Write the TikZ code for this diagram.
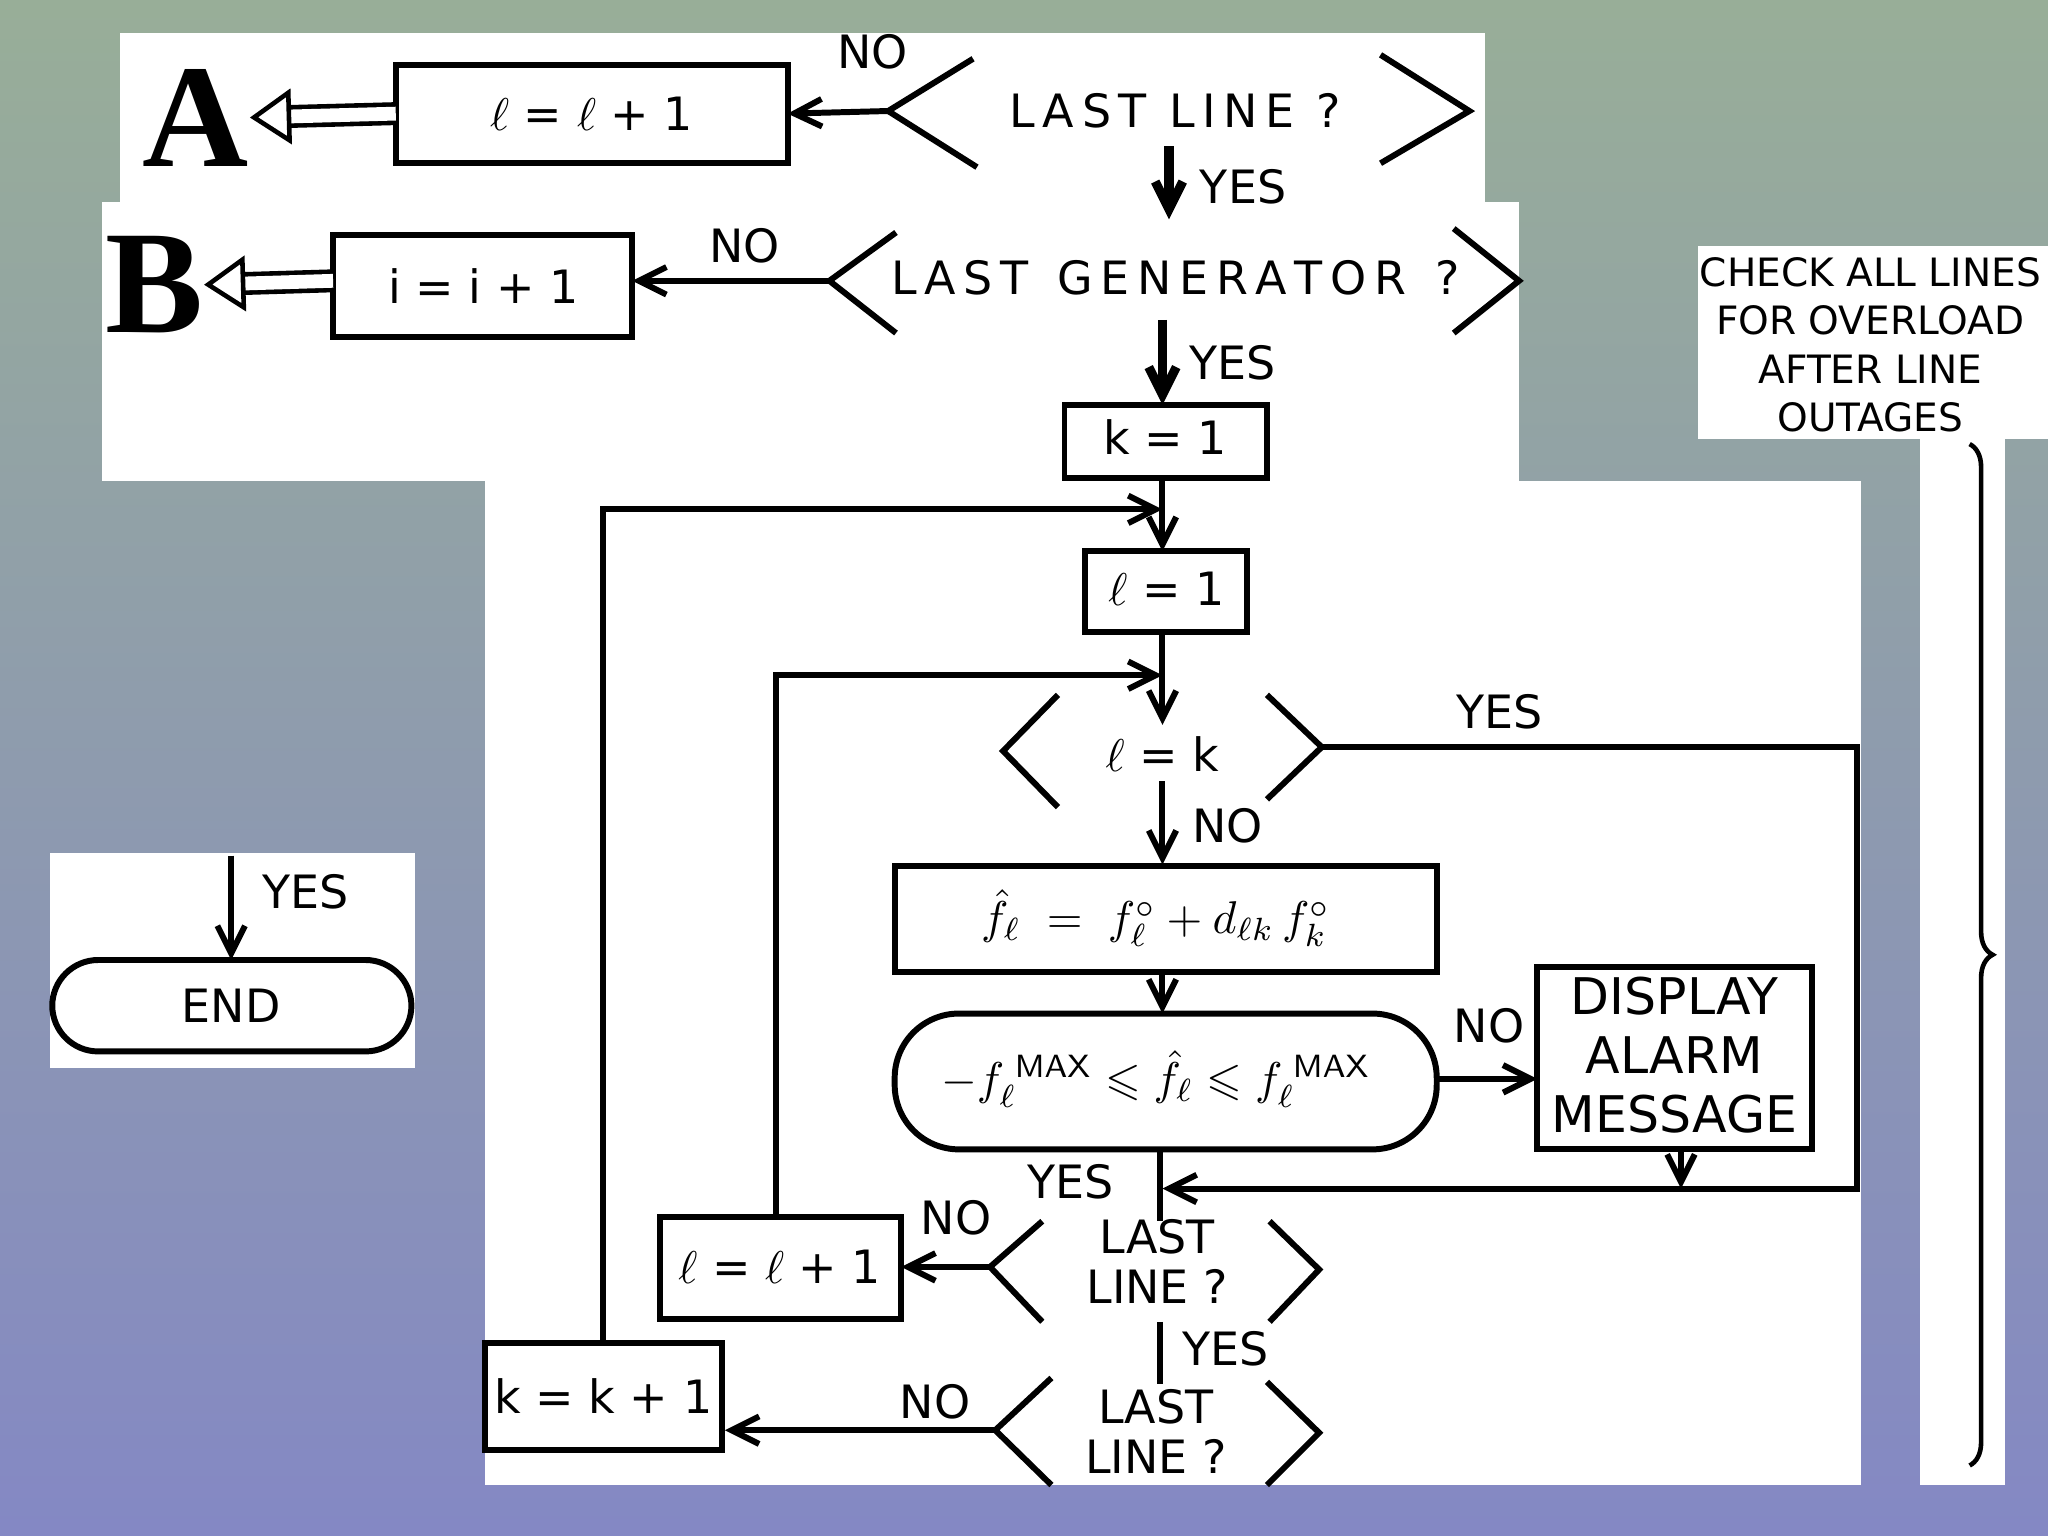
\documentclass[tikz,border=0pt]{standalone}
\usepackage{amssymb}
\usepackage{fontspec}
\setmainfont{DejaVu Sans}
\newfontfamily\serifbig{Liberation Serif}
\usetikzlibrary{arrows.meta,decorations.pathreplacing}
\definecolor{bgtop}{RGB}{152,174,152}
\definecolor{bgbot}{RGB}{132,136,196}
\begin{document}
\begin{tikzpicture}[x=0.01cm,y=-0.01cm,
  ln/.style={line width=1.3pt},
  ar/.style={ln,-{Straight Barb[length=6pt,width=6pt]}},
  dar/.style={double,double distance=3pt,line width=1pt,-{Triangle[open,length=9pt,width=12pt]}},
  tx/.style={font=\fontsize{10}{12}\selectfont,inner sep=0pt,align=center},
  two/.style={font=\fontsize{10}{10.8}\selectfont},
  big/.style={font=\fontsize{32}{32}\selectfont\bfseries\serifbig,inner sep=0pt}]
\useasboundingbox (0,0) rectangle (1568,1176);
\shade[top color=bgtop, bottom color=bgbot] (0,0) rectangle (1568,1176);
\fill[white] (92,25) rectangle (1137,155);
\fill[white] (78,155) rectangle (1163,368);
\fill[white] (371,368) rectangle (1425,1137);
\fill[white] (1300,188) rectangle (1568,336);
\fill[white] (1470,336) rectangle (1535,1137);
\fill[white] (38,653) rectangle (318,818);
% row A
\node[big] (A) at (150,90) {A};
\draw[ln] (303,50) rectangle (603,125);
\node[tx] (b1) at (453,87) {$\ell$ = $\ell$ + 1};
\coordinate (b1l) at (303,87); \coordinate (b1r) at (603,87);
\draw[dar] (b1l) -- (A.east);
\draw[ln] (745,45) -- (680,85) -- (748,128);
\draw[ln] (1057,42) -- (1125,85) -- (1057,125);
\node[tx] (d1) at (900,85) {L\,A\,S\,T\,\ L\,I\,N\,E\,\ ?};
\coordinate (d1l) at (680,85);
\draw[ar] (d1l) -- (b1r);
\node[tx] at (668,40) {NO};
\coordinate (d1b) at (895,112); \coordinate (d2t) at (895,168);
\draw[ar,line width=2pt] (d1b) -- (d2t);
\node[tx,anchor=west] at (918,143) {YES};
% row B
\node[big] (B) at (118,218) {B};
\draw[ln] (255,180) rectangle (484,258);
\node[tx] (b2) at (370,219) {i = i + 1};
\coordinate (b2l) at (255,215); \coordinate (b2r) at (484,215);
\draw[dar] (b2l) -- (B.east);
\draw[ln] (686,178) -- (635,215) -- (686,255);
\draw[ln] (1113,175) -- (1163,215) -- (1113,255);
\node[tx] (d2) at (900,213) {L\,A\,S\,T\ \ G\,E\,N\,E\,R\,A\,T\,O\,R\ \ ?};
\coordinate (d2l) at (635,215);
\draw[ar] (d2l) -- (b2r);
\node[tx] at (570,188) {NO};
\coordinate (d2b) at (890,245); \coordinate (k1t) at (890,310);
\draw[ar,line width=2pt] (d2b) -- (k1t);
\node[tx,anchor=west] at (910,278) {YES};
% k=1
\draw[ln] (815,310) rectangle (970,366);
\node[tx] (k1) at (892,335) {k = 1};
\coordinate (k1b) at (890,366); \coordinate (l1t) at (890,422);
\draw[ar] (k1b) -- (l1t);
\draw[ln] (831,422) rectangle (955,484);
\node[tx] (l1) at (893,451) {$\ell$ = 1};
\coordinate (l1b) at (890,484); \coordinate (d3t) at (890,555);
\draw[ar] (l1b) -- (d3t);
% l=k decision
\draw[ln] (810,532) -- (768,575) -- (810,618);
\draw[ln] (970,532) -- (1012,572) -- (970,612);
\node[tx] (d3) at (890,577) {$\ell$ = k};
\coordinate (d3r) at (1012,572); \coordinate (join) at (890,910);
\draw[ar] (d3r) -- (1422,572) -- (1422,910) -- (join);
\node[tx] at (1148,545) {YES};
\coordinate (d3b) at (890,598); \coordinate (f1t) at (890,662);
\draw[ar] (d3b) -- (f1t);
\node[tx,anchor=west] at (912,632) {NO};
\draw[ln] (685,663) rectangle (1100,744);
\node[tx] (f1) at (885,703) {$\hat f_\ell\;=\;f^\circ_\ell + d_{\ell k}\,f^\circ_k$};
\coordinate (f1b) at (890,744); \coordinate (t1t) at (890,776);
\draw[ar] (f1b) -- (t1t);
\draw[ln,rounded corners=14pt] (685,776) rectangle (1100,880);
\node[tx] (t1) at (885,826) {$-f_\ell^{\;\mathsf{MAX}}\leqslant \hat f_\ell \leqslant f_\ell^{\;\mathsf{MAX}}$};
\coordinate (t1r) at (1100,826); \coordinate (alr) at (1177,826);
\draw[ar] (t1r) -- (alr);
\node[tx] at (1140,785) {NO};
\draw[ln] (1177,740) rectangle (1387,880);
\node[tx,font=\fontsize{11}{12.8}\selectfont] (al) at (1282,808) {DISPLAY\\ALARM\\MESSAGE};
\coordinate (alb) at (1287,880); \coordinate (alj) at (1287,910);
\draw[ar] (alb) -- (alj);
\coordinate (t1b) at (888,880); \coordinate (d4t) at (888,935);
\draw[ln] (t1b) -- (d4t);
\node[tx] at (820,905) {YES};
% last line decision 1
\draw[ln] (798,935) -- (758,970) -- (798,1012);
\draw[ln] (972,935) -- (1010,972) -- (972,1012);
\node[tx,two] (d4) at (886,966) {LAST\\LINE ?};
\draw[ln] (505,932) rectangle (690,1010);
\node[tx] (l2) at (597,970) {$\ell$ = $\ell$ + 1};
\coordinate (d4l) at (758,970); \coordinate (l2r) at (690,970);
\draw[ar] (d4l) -- (l2r);
\node[tx] at (732,932) {NO};
\coordinate (l2t) at (594,932); \coordinate (l1j) at (890,517);
\draw[ar] (l2t) -- (594,517) -- (l1j);
\coordinate (d4b) at (888,1012); \coordinate (d5t) at (888,1060);
\draw[ln] (d4b) -- (d5t);
\node[tx] at (938,1033) {YES};
% last line decision 2
\draw[ln] (805,1055) -- (762,1095) -- (805,1137);
\draw[ln] (970,1058) -- (1010,1097) -- (970,1137);
\node[tx,two] (d5) at (885,1096) {LAST\\LINE ?};
\draw[ln] (371,1028) rectangle (553,1110);
\node[tx] (k2) at (462,1069) {k = k + 1};
\coordinate (d5l) at (762,1095); \coordinate (k2r) at (555,1095);
\draw[ar] (d5l) -- (k2r);
\node[tx] at (716,1073) {NO};
\coordinate (k2t) at (462,1028); \coordinate (k1j) at (890,390);
\draw[ar] (k2t) -- (462,390) -- (k1j);
% check text and brace
\node[tx,font=\fontsize{8.5}{10.5}\selectfont] (chk) at (1432,264) {CHECK ALL LINES\\FOR OVERLOAD\\AFTER LINE\\OUTAGES};
\coordinate (brt) at (1508,340); \coordinate (brb) at (1508,1122);
\draw[line width=1pt,decorate,decoration={brace,amplitude=5pt}] (brt) -- (brb);
% END
\coordinate (et) at (177,655); \coordinate (eb) at (177,735);
\draw[ar] (et) -- (eb);
\node[tx,anchor=west] at (200,683) {YES};
\draw[ln,rounded corners=10pt] (40,735) rectangle (315,805);
\node[tx] (end) at (177,770) {END};
\end{tikzpicture}
\end{document}
